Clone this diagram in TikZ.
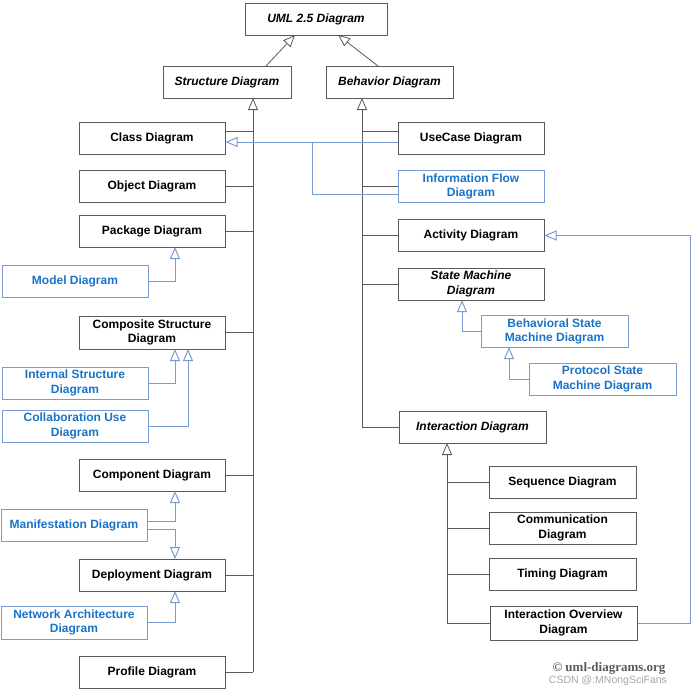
\documentclass[tikz,border=0pt]{standalone}
\usepackage{fontspec}
\setmainfont{Liberation Sans}
\newfontfamily\wmserif{Liberation Serif}
\usetikzlibrary{arrows.meta}
\definecolor{bl}{RGB}{120,155,210}
\definecolor{bt}{RGB}{25,115,200}
\definecolor{gr}{RGB}{90,90,90}
\begin{document}
\begin{tikzpicture}[x=1pt,y=-1pt,
 box/.style={draw=gr,line width=1pt,fill=white,minimum height=32pt,align=center,font=\fontsize{12}{14.5}\selectfont\bfseries,inner sep=1pt},
 bbox/.style={box,draw=bl,text=bt},
 ln/.style={draw=gr,line width=0.8pt},
 bln/.style={draw=bl,line width=1pt},
 gen/.style={-{Triangle[open,length=12pt,width=10pt]}},
]
\useasboundingbox (0,0) rectangle (693,694);
\node[box,minimum width=142pt] (uml) at (316,19) {\itshape UML 2.5 Diagram};
\node[box,minimum width=128pt] (str) at (227,82) {\itshape Structure Diagram};
\node[box,minimum width=127pt] (beh) at (389.5,82) {\itshape Behavior Diagram};
% left column
\node[box,minimum width=146pt] (cls) at (152,138.5) {Class Diagram};
\node[box,minimum width=146pt] (obj) at (152,186) {Object Diagram};
\node[box,minimum width=146pt] (pkg) at (152,231.5) {Package Diagram};
\node[bbox,minimum width=146pt] (mod) at (75,281.5) {Model Diagram};
\node[box,minimum width=146pt,minimum height=33pt] (cmp) at (152,332.5) {Composite Structure\\Diagram};
\node[bbox,minimum width=146pt] (int) at (75,383) {Internal Structure\\Diagram};
\node[bbox,minimum width=146pt] (col) at (75,426) {Collaboration Use\\Diagram};
\node[box,minimum width=146pt] (com) at (152,475) {Component Diagram};
\node[bbox,minimum width=146pt] (man) at (74,525.5) {Manifestation Diagram};
\node[box,minimum width=146pt] (dep) at (152,575) {Deployment Diagram};
\node[bbox,minimum width=146pt,minimum height=33pt] (net) at (74,622.5) {Network Architecture\\Diagram};
\node[box,minimum width=146pt] (pro) at (152,672) {Profile Diagram};
% right column
\node[box,minimum width=146pt] (use) at (471,138.5) {UseCase Diagram};
\node[bbox,minimum width=146pt] (inf) at (471,186.5) {Information Flow\\Diagram};
\node[box,minimum width=146pt] (act) at (471,235.5) {Activity Diagram};
\node[box,minimum width=146pt] (stm) at (471,284) {\itshape State Machine\\\itshape Diagram};
\node[bbox,minimum width=147pt] (bsm) at (554.5,331.5) {Behavioral State\\Machine Diagram};
\node[bbox,minimum width=147pt] (psm) at (602.5,379) {Protocol State\\Machine Diagram};
\node[box,minimum width=147pt] (ind) at (472.5,427) {\itshape Interaction Diagram};
\node[box,minimum width=147pt] (seq) at (562.5,482) {Sequence Diagram};
\node[box,minimum width=147pt] (cmm) at (562.5,528) {Communication\\Diagram};
\node[box,minimum width=147pt] (tim) at (562.5,574.5) {Timing Diagram};
\node[box,minimum width=147pt,minimum height=34pt] (iov) at (563.5,623) {Interaction Overview\\Diagram};
% top generalizations
\draw[ln,gen] (266,66) -- (295,35);
\draw[ln,gen] (378,66) -- (338,35);
% structure trunk
\coordinate (st) at (253,98);
\draw[ln,gen] (253,672) -- (st);
\foreach \n/\y in {cls/131,obj/186,pkg/231.5,cmp/332.5,com/475,dep/575,pro/672}
  \draw[ln] (\n.east |- 0,\y) -- (253,\y);
% behavior trunk
\draw[ln,gen] (362,427) -- (362,98);
\foreach \n/\y in {use/131,inf/186,act/235.5,stm/284,ind/427}
  \draw[ln] (\n.west |- 0,\y) -- (362,\y);
% blue dependencies to class
\draw[bln] (inf.west |- 0,194) -- (312,194) -- (312,142);
\draw[bln,gen] (use.west |- 0,142) -- (cls.east |- 0,142);
% left blue generalizations
\draw[bln,gen] (mod.east) -- (175,281.5) -- (175,247);
\draw[bln,gen] (int.east) -- (175,383) -- (175,349);
\draw[bln,gen] (col.east) -- (188,426) -- (188,349);
\draw[bln,gen] (man.east |- 0,521) -- (175,521) -- (175,491);
\draw[bln,gen] (man.east |- 0,529) -- (175,529) -- (175,559);
\draw[bln,gen] (net.east) -- (175,622.5) -- (175,591);
% right blue
\draw[bln,gen] (bsm.west) -- (462,331.5) -- (462,300);
\draw[bln,gen] (psm.west) -- (509,379) -- (509,347);
\draw[bln,gen] (iov.east) -- (690,623) -- (690,235.5) -- (act.east);
% interaction trunk
\draw[ln,gen] (447,623) -- (447,443);
\foreach \n/\y in {seq/482,cmm/528,tim/574.5,iov/623}
  \draw[ln] (447,\y) -- (\n.west |- 0,\y);
% watermark
\node[text=gr,font=\fontsize{13}{13}\selectfont\wmserif\bfseries] (wm) at (609,668) {© uml-diagrams.org};
\node[text=gray!70,font=\fontsize{10.5}{11}\selectfont] (wm2) at (608,681) {CSDN @:MNongSciFans};
\end{tikzpicture}
\end{document}
